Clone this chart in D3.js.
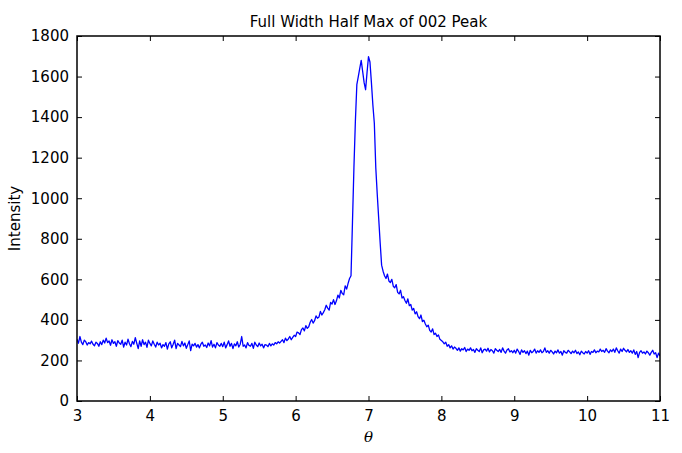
<!DOCTYPE html>
<html>
<head>
<meta charset="utf-8">
<script src="https://cdn.jsdelivr.net/npm/d3@7"></script>
<style>
    body { margin: 0; background: #fff; }
    text { font-family: "DejaVu Sans", sans-serif; }
</style>
</head>
<body>
<script>
// scan starts at 3 and is sampled every 0.02 in theta
const thetaStart = 3;
const thetaStep = 0.02;

// intensity, one row = 0.2 in theta
const intensity = [
    305, 285, 318, 290, 278, 300, 292, 276, 288, 282,
    295, 280, 272, 290, 284, 270, 292, 278, 300, 286,
    310, 288, 296, 275, 302, 284, 292, 270, 298, 286,
    280, 300, 266, 290, 276, 305, 282, 268, 294, 280,
    312, 285, 258, 296, 270, 302, 278, 290, 265, 300,
    284, 272, 296, 280, 266, 290, 276, 285, 262, 278,
    270, 288, 256, 282, 292, 262, 280, 300, 258, 284,
    276, 268, 294, 272, 286, 260, 278, 296, 248, 280,
    272, 284, 266, 278, 262, 280, 290, 270, 276, 264,
    286, 272, 298, 266, 280, 262, 288, 276, 270, 284,
    268, 290, 262, 278, 296, 270, 284, 258, 282, 272,
    292, 266, 280, 318, 270, 276, 262, 288, 274, 270,
    284, 260, 290, 276, 268, 286, 272, 280, 262, 278,
    276, 268, 284, 272, 282, 276, 288, 282, 292, 286,
    294, 302, 288, 310, 298, 306, 318, 302, 314, 324,
    318, 340, 336, 328, 352, 360, 346, 372, 358, 366,
    388, 402, 384, 396, 420, 408, 414, 442, 424, 436,
    450, 472, 458, 448, 486, 478, 500, 476, 494, 522,
    508, 546, 530, 524, 568, 552, 580, 604, 618, 880,
    1150, 1380, 1560, 1600, 1640, 1680, 1625, 1570, 1535, 1620,
    1698, 1672, 1570, 1460, 1370, 1150, 1020, 900, 780, 670,
    640, 618, 604, 626, 592, 584, 600, 566, 558, 574,
    536, 528, 546, 508, 514, 496, 482, 504, 470, 476,
    448, 456, 430, 440, 416, 406, 424, 392, 398, 380,
    366, 374, 348, 340, 356, 328, 334, 318, 326, 304,
    298, 292, 282, 290, 270, 278, 262, 272, 256, 266,
    260, 250, 262, 246, 258, 252, 264, 244, 256, 250,
    262, 248, 254, 240, 258, 250, 244, 262, 238, 252,
    256, 246, 260, 242, 254, 248, 236, 258, 250, 244,
    254, 240, 262, 246, 236, 252, 258, 242, 248, 238,
    250, 236, 256, 244, 230, 252, 240, 248, 234, 246,
    226, 250, 238, 244, 256, 236, 248, 240, 252, 238,
    244, 262, 240, 248, 236, 250, 242, 232, 246, 238,
    252, 236, 244, 226, 248, 240, 236, 250, 242, 234,
    246, 238, 250, 234, 242, 228, 246, 238, 232, 244,
    236, 248, 230, 244, 240, 252, 238, 246, 242, 256,
    244, 250, 240, 258, 246, 238, 252, 244, 256, 240,
    262, 248, 236, 256, 244, 260, 250, 242, 254, 240,
    248, 236, 252, 230, 244, 214, 240, 248, 236, 242,
    232, 246, 238, 226, 240, 250, 232, 238, 214, 236,
    222
];

const xTicks = [3, 4, 5, 6, 7, 8, 9, 10, 11];
const yTicks = [0, 200, 400, 600, 800, 1000, 1200, 1400, 1600, 1800];

const margin = { top: 36, right: 22, bottom: 52, left: 77 };
const width = 682 - margin.left - margin.right;
const height = 453 - margin.top - margin.bottom;

const svg = d3.select('body').append('svg')
    .attr('width', 682)
    .attr('height', 453);

const group = svg.append('g')
    .attr('transform', `translate(${margin.left}, ${margin.top})`);

const xscale = d3.scaleLinear().domain([3, 11]).range([0, width]);
const yscale = d3.scaleLinear().domain([0, 1800]).range([height, 0]);

const points = intensity.map((v, i) => ({ theta: thetaStart + i * thetaStep, value: v }));

// clip so the line stays in the box
group.append('clipPath').attr('id', 'plot-clip')
    .append('rect').attr('width', width).attr('height', height);

const line = d3.line()
    .x((d) => xscale(d.theta))
    .y((d) => yscale(d.value));

group.append('path')
    .datum(points)
    .attr('clip-path', 'url(#plot-clip)')
    .attr('fill', 'none')
    .attr('stroke', '#0000ff')
    .attr('stroke-width', 1.3)
    .attr('stroke-linejoin', 'round')
    .attr('d', line);

// matplotlib classic look: ticks point inward on all four sides
const tickLen = 5;
const styleAxis = (g) => {
    g.select('.domain').remove();
    g.selectAll('line').attr('stroke', '#000').attr('stroke-width', 1);
    g.selectAll('text').attr('font-size', 15).attr('fill', '#000');
};

group.append('g').attr('class', 'x axis')
    .attr('transform', `translate(0, ${height})`)
    .call(d3.axisBottom(xscale).tickValues(xTicks).tickSize(-tickLen).tickPadding(9).tickFormat(d3.format('d')))
    .call(styleAxis);

group.append('g').attr('class', 'x axis top')
    .call(d3.axisTop(xscale).tickValues(xTicks).tickSize(-tickLen).tickFormat(''))
    .call(styleAxis);

group.append('g').attr('class', 'y axis')
    .call(d3.axisLeft(yscale).tickValues(yTicks).tickSize(-tickLen).tickPadding(8).tickFormat(d3.format('d')))
    .call(styleAxis);

group.append('g').attr('class', 'y axis right')
    .attr('transform', `translate(${width}, 0)`)
    .call(d3.axisRight(yscale).tickValues(yTicks).tickSize(-tickLen).tickFormat(''))
    .call(styleAxis);

group.append('rect')
    .attr('width', width)
    .attr('height', height)
    .attr('fill', 'none')
    .attr('stroke', '#000')
    .attr('stroke-width', 1.5);

svg.append('text')
    .attr('x', margin.left + width / 2)
    .attr('y', 27)
    .attr('text-anchor', 'middle')
    .attr('font-size', 15)
    .text('Full Width Half Max of 002 Peak');

svg.append('text')
    .attr('x', margin.left + width / 2)
    .attr('y', 442)
    .attr('text-anchor', 'middle')
    .attr('font-size', 15)
    .attr('font-style', 'italic')
    .style('font-family', '"DejaVu Serif", serif')
    .text('θ');

svg.append('text')
    .attr('transform', `translate(20, ${margin.top + height / 2}) rotate(-90)`)
    .attr('text-anchor', 'middle')
    .attr('font-size', 15)
    .text('Intensity');
</script>
</body>
</html>
